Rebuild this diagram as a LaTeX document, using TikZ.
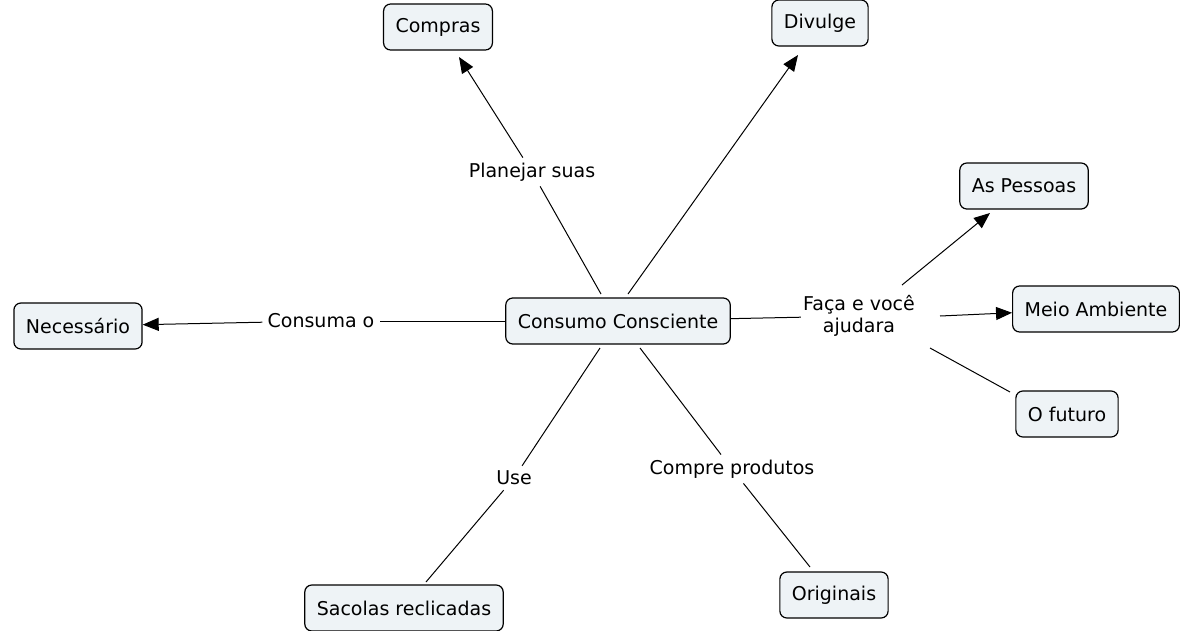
\documentclass[tikz,border=0pt]{standalone}
\usepackage{fontspec}
\setmainfont{DejaVu Sans}
\usetikzlibrary{arrows.meta}
\begin{document}
\begin{tikzpicture}[x=1pt,y=-1pt,
  box/.style={draw=black,line width=1.2pt,fill=boxfill,rounded corners=7pt,minimum height=46pt,inner xsep=12pt,font=\fontsize{19}{22}\selectfont},
  lab/.style={fill=white,inner sep=5pt,font=\fontsize{19}{22}\selectfont,align=center},
  ln/.style={line width=1pt},
  arr/.style={line width=1pt,-{Triangle[length=16pt,width=13pt]}}]
\definecolor{boxfill}{HTML}{EEF3F6}
\useasboundingbox (0,0) rectangle (1200,630);
\node[box] (c) at (618,321) {Consumo Consciente};
\node[box] (compras) at (438,27) {Compras};
\node[box] (div) at (820,23) {Divulge};
\node[box] (pes) at (1024,186) {As Pessoas};
\node[box] (meio) at (1096,309) {Meio Ambiente};
\node[box] (fut) at (1067,414) {O futuro};
\node[box] (orig) at (834,595) {Originais};
\node[box] (sac) at (404,608) {Sacolas reclicadas};
\node[box] (nec) at (78,326) {Necessário};
\node[lab] (lplan) at (532,172) {Planejar suas};
\node[lab] (lcons) at (321,321) {Consuma o};
\node[lab,inner sep=2pt] (lfaca) at (859,316) {Faça e você\\ajudara};
\node[lab] (luse) at (514,478) {Use};
\node[lab] (lcomp) at (732,469) {Compre produtos};
\coordinate (a1) at (601,294);
\draw[ln] (a1) -- (lplan);
\draw[arr] (lplan) -- (459,57);
\draw[arr] (628,294) -- (798,55);
\draw[ln] (c) -- (lcons);
\draw[arr] (lcons) -- (nec);
\draw[ln] (c) -- (lfaca);
\draw[arr] (902,285) -- (990,213);
\draw[arr] (940,316) -- (meio);
\draw[ln] (930,348) -- (1010,392);
\draw[ln] (600,348) -- (luse);
\draw[ln] (luse) -- (426,582);
\draw[ln] (640,348) -- (lcomp);
\draw[ln] (lcomp) -- (810,567);
\end{tikzpicture}
\end{document}
